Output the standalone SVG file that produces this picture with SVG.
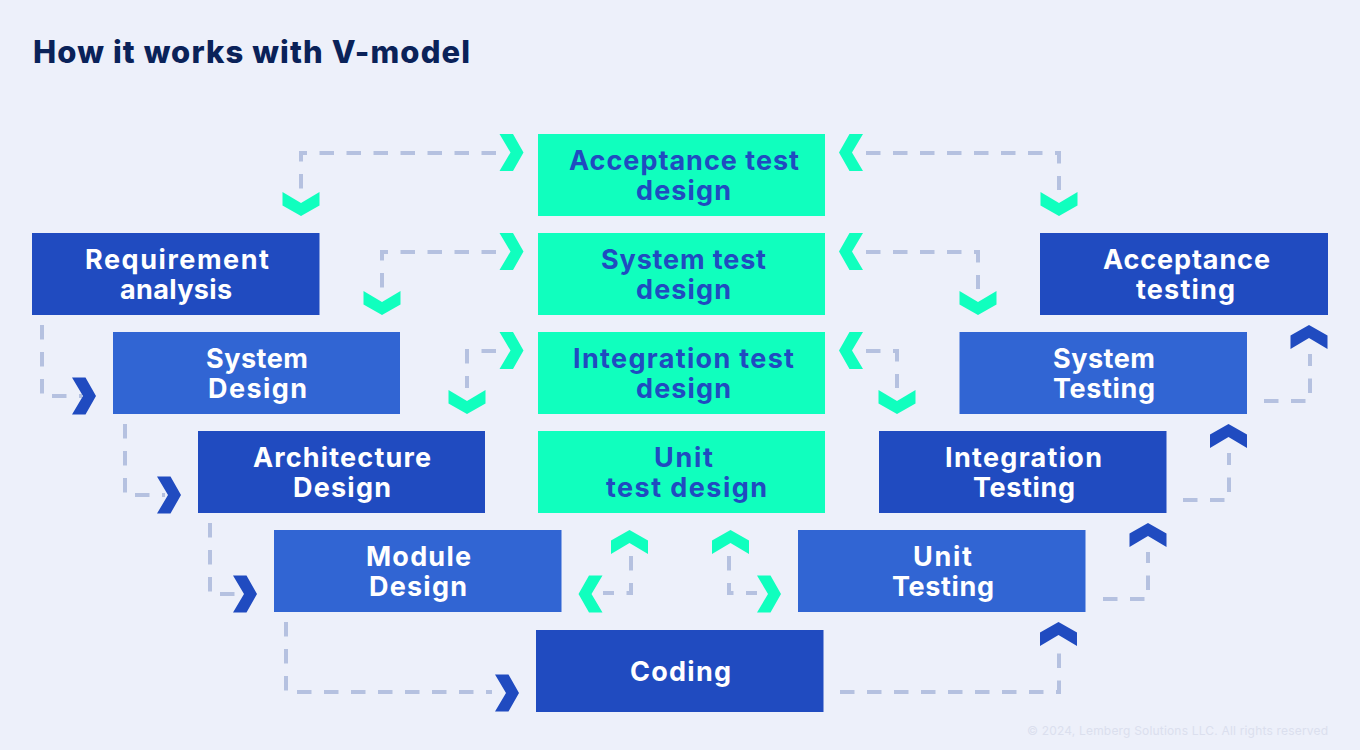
<svg xmlns="http://www.w3.org/2000/svg" width="1360" height="750" viewBox="0 0 1360 750">
<style>
text{font-family:Inter,"Liberation Sans",sans-serif;font-weight:700;font-size:27px;text-anchor:middle;fill:#fff}
.g text{fill:#204BC0}
.g rect{fill:#10FFBE}
.d rect{fill:#204BC0}
.m rect{fill:#3165D3}
#connectors path{fill:none;stroke:#B5C1E0;stroke-width:4;stroke-dasharray:14.5 12.5}
.cg{fill:#10FFBE}
.cb{fill:#204BC0}
</style>
<defs>
<polygon id="chev" points="-12,-18.5 1.500,-18.500 12,0 1.500,18.500 -12,18.500 -1,0"/>
</defs>
<rect width="1360" height="750" fill="#EDF0FA"/>
<text id="title" x="251.500" y="63" textLength="437" style="font-size:31px;font-weight:800;fill:#0A2259">How it works with V-model</text>
<g id="connectors">
<path d="M496,153H301V190"/>
<path d="M496,252H382V289"/>
<path d="M496,351H467V388"/>
<path d="M866,153H1059V190"/>
<path d="M866,252H978V289"/>
<path d="M866,351H897V388"/>
<path d="M42,325V396H82"/>
<path d="M125,424V495H165"/>
<path d="M210,523V594H242"/>
<path d="M286,622V692H492"/>
<path d="M631,556V593H603"/>
<path d="M729,556V593H757"/>
<path d="M840,692H1059V651"/>
<path d="M1103,599H1148V552"/>
<path d="M1183,500H1229V453"/>
<path d="M1264,401H1310V354"/>
</g>
<g id="arrowheads">
<use href="#chev" class="cg" transform="translate(511.500 152.500)"/>
<use href="#chev" class="cg" transform="translate(511.500 251.500)"/>
<use href="#chev" class="cg" transform="translate(511.500 350.500)"/>
<use href="#chev" class="cg" transform="translate(851 152.500) rotate(180)"/>
<use href="#chev" class="cg" transform="translate(851 251.500) rotate(180)"/>
<use href="#chev" class="cg" transform="translate(851 350.500) rotate(180)"/>
<use href="#chev" class="cg" transform="translate(301 204) rotate(90)"/>
<use href="#chev" class="cg" transform="translate(382 303) rotate(90)"/>
<use href="#chev" class="cg" transform="translate(467 402) rotate(90)"/>
<use href="#chev" class="cg" transform="translate(1059 204) rotate(90)"/>
<use href="#chev" class="cg" transform="translate(978 303) rotate(90)"/>
<use href="#chev" class="cg" transform="translate(897 402) rotate(90)"/>
<use href="#chev" class="cg" transform="translate(629.500 542) rotate(-90)"/>
<use href="#chev" class="cg" transform="translate(730.500 542) rotate(-90)"/>
<use href="#chev" class="cg" transform="translate(590.500 594) rotate(180)"/>
<use href="#chev" class="cg" transform="translate(769 594)"/>
<use href="#chev" class="cb" transform="translate(84 396)"/>
<use href="#chev" class="cb" transform="translate(169 495)"/>
<use href="#chev" class="cb" transform="translate(245 594)"/>
<use href="#chev" class="cb" transform="translate(507 693)"/>
<use href="#chev" class="cb" transform="translate(1309 337) rotate(-90)"/>
<use href="#chev" class="cb" transform="translate(1228.500 436) rotate(-90)"/>
<use href="#chev" class="cb" transform="translate(1148 535) rotate(-90)"/>
<use href="#chev" class="cb" transform="translate(1058.500 634) rotate(-90)"/>
</g>
<g id="acceptance-test-design" class="g"><rect x="538" y="134" width="287" height="82"/><text x="684" y="170" textLength="230">Acceptance test</text><text x="683.500" y="200" textLength="95">design</text></g>
<g id="system-test-design" class="g"><rect x="538" y="233" width="287" height="82"/><text x="683.500" y="269" textLength="165">System test</text><text x="683.500" y="299" textLength="95">design</text></g>
<g id="integration-test-design" class="g"><rect x="538" y="332" width="287" height="82"/><text x="683.500" y="368" textLength="221">Integration test</text><text x="683.500" y="398" textLength="95">design</text></g>
<g id="unit-test-design" class="g"><rect x="538" y="431" width="287" height="82"/><text x="683.500" y="467" textLength="59">Unit</text><text x="686.500" y="497" textLength="161">test design</text></g>
<g id="requirement-analysis" class="d"><rect x="32" y="233" width="287.500" height="82"/><text x="177" y="269" textLength="184">Requirement</text><text x="176" y="299" textLength="112">analysis</text></g>
<g id="system-design" class="m"><rect x="113" y="332" width="287" height="82"/><text x="257" y="368" textLength="102">System</text><text x="257.500" y="398" textLength="99">Design</text></g>
<g id="architecture-design" class="d"><rect x="198" y="431" width="287" height="82"/><text x="342" y="467" textLength="178">Architecture</text><text x="342" y="497" textLength="98">Design</text></g>
<g id="module-design" class="m"><rect x="274" y="530" width="287.500" height="82"/><text x="418.500" y="566" textLength="105">Module</text><text x="418" y="596" textLength="98">Design</text></g>
<g id="coding" class="d"><rect x="536" y="630" width="287.500" height="82"/><text x="680.500" y="681" textLength="101">Coding</text></g>
<g id="unit-testing" class="m"><rect x="798" y="530" width="287.500" height="82"/><text x="942.500" y="566" textLength="59">Unit</text><text x="943" y="596" textLength="102">Testing</text></g>
<g id="integration-testing" class="d"><rect x="879" y="431" width="287.500" height="82"/><text x="1023.500" y="467" textLength="157">Integration</text><text x="1024" y="497" textLength="102">Testing</text></g>
<g id="system-testing" class="m"><rect x="959.500" y="332" width="287.500" height="82"/><text x="1104" y="368" textLength="102">System</text><text x="1104" y="398" textLength="102">Testing</text></g>
<g id="acceptance-testing" class="d"><rect x="1040" y="233" width="288" height="82"/><text x="1186.500" y="269" textLength="167">Acceptance</text><text x="1185.500" y="299" textLength="99">testing</text></g>
<text id="copyright" x="1177.500" y="735" textLength="301" style="font-size:12px;font-weight:400;fill:#DBDFEE">© 2024, Lemberg Solutions LLC. All rights reserved</text>
</svg>
